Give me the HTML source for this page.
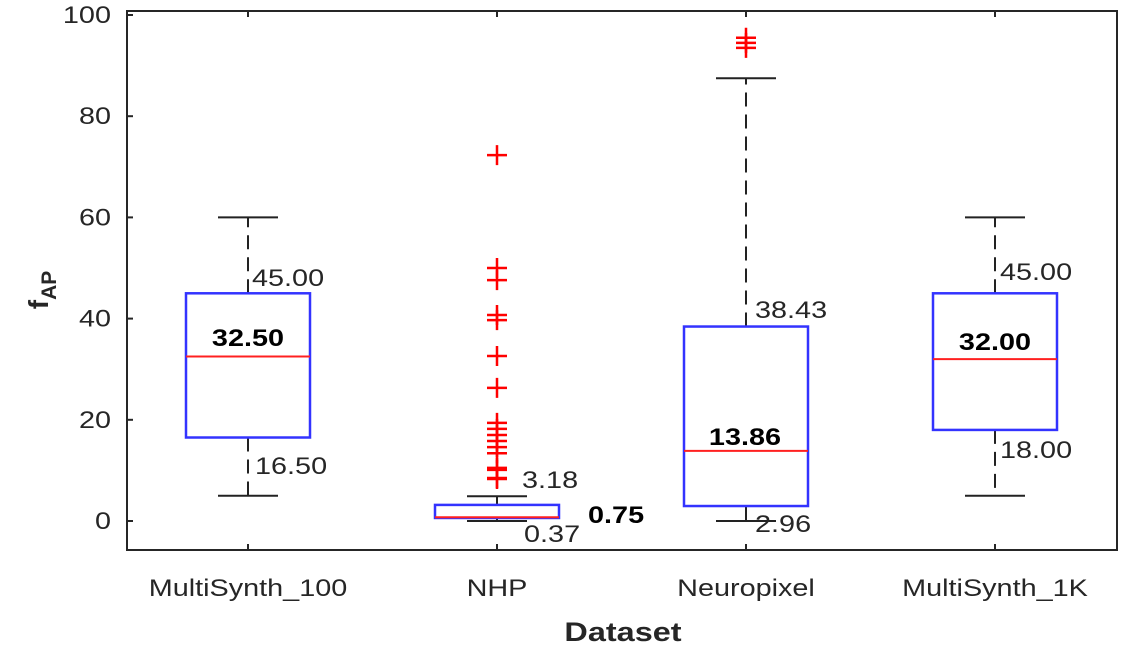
<!DOCTYPE html>
<html><head><meta charset="utf-8"><style>
body{margin:0;background:#fff}
svg text{font-family:"Liberation Sans",Arial,sans-serif}
</style></head><body>
<svg id="c" width="1125" height="649" xmlns="http://www.w3.org/2000/svg"></svg>
<script>
const categories=["MultiSynth_100","NHP","Neuropixel","MultiSynth_1K"];
const whiskLo=[5,0,0,5];
const q1=[16.5,0.6,2.96,18];
const medians=[32.5,0.75,13.86,32];
const q3=[45,3.18,38.43,45];
const whiskHi=[60,4.9,87.5,60];
const outliersNHP=[72.3,50,47.6,40.7,39.7,32.6,26.3,19.4,18.2,17,15.8,14.6,13.4,10.5,10.1,8.5,8.3];
const outliersNeuro=[95.5,94.5,93.5];
const outliers=[[],outliersNHP,outliersNeuro,[]];
const yTicks=[0,20,40,60,80,100];
const hiLabels=["45.00","3.18","38.43","45.00"];
const loLabels=["16.50","0.37","2.96","18.00"];
const medLabels=["32.50","0.75","13.86","32.00"];

const L=127,R=1117,T=11,B=550;
const y=v=>521-v*5.06;
const x=i=>248+i*249;
const NS="http://www.w3.org/2000/svg";
const svg=document.getElementById('c');
const stretched=[];
function el(t,a,txt){const e=document.createElementNS(NS,t);for(const k in a)e.setAttribute(k,a[k]);if(txt!==undefined)e.textContent=txt;svg.appendChild(e);if(t==='text')stretched.push(e);return e;}

let e=el('rect',{x:L,y:T,width:R-L,height:B-T,fill:'none',stroke:'#262626','stroke-width':2});



yTicks.forEach(v=>{
  let t=el('line',{x1:L,x2:L+6,y1:y(v),y2:y(v),stroke:'#262626','stroke-width':2});
  
  
  let l=el('text',{x:L-16,y:y(v)+8,'text-anchor':'end','font-size':24,fill:'#262626'},v);
  
  
});
categories.forEach((c,i)=>{
  const cx=x(i);
  let t=el('line',{x1:cx,x2:cx,y1:B,y2:B-6,stroke:'#262626','stroke-width':2});
  
  
  let t2=el('line',{x1:cx,x2:cx,y1:T,y2:T+6,stroke:'#262626','stroke-width':2});
  
  
  let l=el('text',{x:cx,y:596,'text-anchor':'middle','font-size':24,fill:'#262626'},c);
  
  
  const hw=62, cw=30;
  let w1=el('line',{x1:cx,x2:cx,y1:y(q3[i]),y2:y(whiskHi[i]),stroke:'#222','stroke-width':2,'stroke-dasharray':'14,8'});
  
  
  let w2=el('line',{x1:cx,x2:cx,y1:y(q1[i]),y2:y(whiskLo[i]),stroke:'#222','stroke-width':2,'stroke-dasharray':'14,8'});
  
  
  let c1=el('line',{x1:cx-cw,x2:cx+cw,y1:y(whiskHi[i]),y2:y(whiskHi[i]),stroke:'#222','stroke-width':2});
  
  
  let c2=el('line',{x1:cx-cw,x2:cx+cw,y1:y(whiskLo[i]),y2:y(whiskLo[i]),stroke:'#222','stroke-width':2});
  
  
  let b=el('rect',{x:cx-hw,y:y(q3[i]),width:2*hw,height:y(q1[i])-y(q3[i]),fill:'#fff',stroke:'#3333ff','stroke-width':2.5});
  
  
  let m=el('line',{x1:cx-hw,x2:cx+hw,y1:y(medians[i]),y2:y(medians[i]),stroke:'#ff2020','stroke-width':2});
  
  
  outliers[i].forEach(v=>{
    let p=el('path',{d:`M${cx-10} ${y(v)}H${cx+10}M${cx} ${y(v)-10}V${y(v)+10}`,stroke:'#ff0000','stroke-width':2.5});
    
    
  });
});
const hiPos=[[252,286],[522,488],[755,318],[1000,280]];
const loPos=[[255,474],[524,542],[755,532],[1000,458]];
const medPos=[[248,346],[588,523],[745,445],[995,350]];
categories.forEach((c,i)=>{
  let a=el('text',{x:hiPos[i][0],y:hiPos[i][1],'font-size':24,fill:'#262626'},hiLabels[i]);
  
  
  let b=el('text',{x:loPos[i][0],y:loPos[i][1],'font-size':24,fill:'#262626'},loLabels[i]);
  
  
  let m=el('text',{x:medPos[i][0],y:medPos[i][1],'font-size':24,'font-weight':'bold','text-anchor':i==1?'start':'middle',fill:'#000'},medLabels[i]);
  
  
});
let xt=el('text',{x:623,y:641,'text-anchor':'middle','font-size':27,'font-weight':'bold',fill:'#262626'},'Dataset');


stretched.forEach(t=>{const w=t.getComputedTextLength();if(w>0){t.setAttribute('textLength',(w*1.2).toFixed(1));t.setAttribute('lengthAdjust','spacingAndGlyphs');}});
let yt=document.createElementNS(NS,'text');
yt.setAttribute('transform','translate(48,290) rotate(-90)');
yt.setAttribute('text-anchor','middle');
yt.setAttribute('font-size','28');
yt.setAttribute('font-weight','bold');
yt.setAttribute('fill','#262626');


svg.appendChild(yt);
const t1=document.createElementNS(NS,'tspan');t1.textContent='f';yt.appendChild(t1);
const t2=document.createElementNS(NS,'tspan');t2.setAttribute('font-size','21');t2.setAttribute('dy','8');t2.textContent='AP';yt.appendChild(t2);
</script>
</body></html>
